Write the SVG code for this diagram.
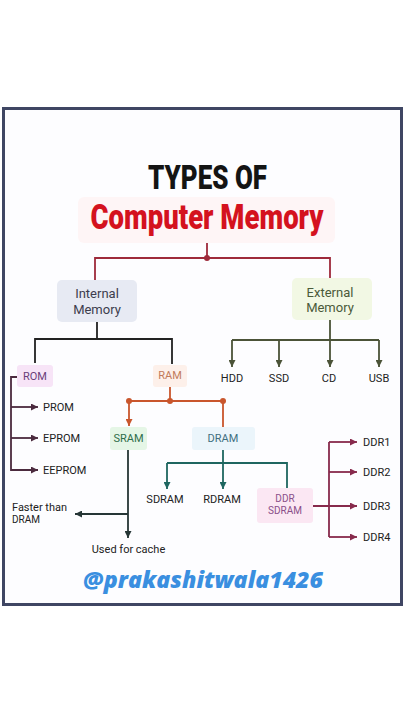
<svg xmlns="http://www.w3.org/2000/svg" width="405" height="720" viewBox="0 0 405 720">
<style>
text{font-family:Roboto,"Liberation Sans",sans-serif}
.s{font-size:11px;fill:#222}
.t{font-size:10px;fill:#222}
.m{font-size:13px}
.c{text-anchor:middle}
.ln{fill:none;stroke-width:1.8}
</style>
<defs>
<marker id="aOl" viewBox="0 0 10 10" refX="10" refY="5" markerWidth="7" markerHeight="7" markerUnits="userSpaceOnUse" orient="auto"><path d="M0,0L10,5L0,10z" fill="#4b5338"/></marker>
<marker id="aPu" viewBox="0 0 10 10" refX="10" refY="5" markerWidth="7" markerHeight="7" markerUnits="userSpaceOnUse" orient="auto"><path d="M0,0L10,5L0,10z" fill="#4b2a3e"/></marker>
<marker id="aOr" viewBox="0 0 10 10" refX="10" refY="5" markerWidth="7" markerHeight="7" markerUnits="userSpaceOnUse" orient="auto"><path d="M0,0L10,5L0,10z" fill="#c9562d"/></marker>
<marker id="aSl" viewBox="0 0 10 10" refX="10" refY="5" markerWidth="7" markerHeight="7" markerUnits="userSpaceOnUse" orient="auto"><path d="M0,0L10,5L0,10z" fill="#263636"/></marker>
<marker id="aTe" viewBox="0 0 10 10" refX="10" refY="5" markerWidth="7" markerHeight="7" markerUnits="userSpaceOnUse" orient="auto"><path d="M0,0L10,5L0,10z" fill="#1e6660"/></marker>
<marker id="aMa" viewBox="0 0 10 10" refX="10" refY="5" markerWidth="7" markerHeight="7" markerUnits="userSpaceOnUse" orient="auto"><path d="M0,0L10,5L0,10z" fill="#872a4c"/></marker>
</defs>
<rect width="405" height="720" fill="#ffffff"/>
<rect x="3.5" y="108.5" width="398" height="496" fill="#fdfdff" stroke="#3f4663" stroke-width="3"/>

<g id="title">
<rect x="78" y="197" width="257" height="46" rx="6" fill="#fef5f6"/>
<text x="207.5" y="188.5" class="c" font-size="33" font-weight="900" fill="#141414" textLength="119" lengthAdjust="spacingAndGlyphs">TYPES OF</text>
<text x="207" y="229" class="c" font-size="35" font-weight="900" fill="#d4121e" textLength="233" lengthAdjust="spacingAndGlyphs">Computer Memory</text>
</g>

<g id="connectors">
<path class="ln" stroke="#9e2a3b" d="M207,243V258M95,280V258H330V278"/>
<circle cx="207" cy="258" r="3" fill="#9e2a3b"/>
<path class="ln" stroke="#222" d="M97,322V339M35,363V339H172V364"/>
<path class="ln" stroke="#4b5338" d="M330,320V340M232,340H379"/>
<path class="ln" stroke="#4b5338" marker-end="url(#aOl)" d="M232,340V367"/>
<path class="ln" stroke="#4b5338" marker-end="url(#aOl)" d="M279,340V367"/>
<path class="ln" stroke="#4b5338" marker-end="url(#aOl)" d="M330,340V367"/>
<path class="ln" stroke="#4b5338" marker-end="url(#aOl)" d="M379,340V367"/>
<path class="ln" stroke="#4b2a3e" marker-end="url(#aPu)" d="M17,377H11V470H38"/>
<path class="ln" stroke="#4b2a3e" marker-end="url(#aPu)" d="M11,407H38"/>
<path class="ln" stroke="#4b2a3e" marker-end="url(#aPu)" d="M11,438H38"/>
<path class="ln" stroke="#c9562d" d="M170,387V401M129,401H223V427"/>
<path class="ln" stroke="#c9562d" marker-end="url(#aOr)" d="M129,401V426"/>
<circle cx="129" cy="401" r="3" fill="#c9562d"/>
<circle cx="170" cy="401" r="3" fill="#c9562d"/>
<circle cx="223" cy="401" r="3" fill="#c9562d"/>
<path class="ln" stroke="#263636" marker-end="url(#aSl)" d="M128,450V538"/>
<path class="ln" stroke="#263636" marker-end="url(#aSl)" d="M128,514H75"/>
<path class="ln" stroke="#1e6660" d="M167,463H287V488"/>
<path class="ln" stroke="#1e6660" marker-end="url(#aTe)" d="M223,450V489"/>
<path class="ln" stroke="#1e6660" marker-end="url(#aTe)" d="M167,463V489"/>
<path class="ln" stroke="#872a4c" d="M329,442V537"/>
<path class="ln" stroke="#872a4c" marker-end="url(#aMa)" d="M313,506H357"/>
<path class="ln" stroke="#872a4c" marker-end="url(#aMa)" d="M329,442H357"/>
<path class="ln" stroke="#872a4c" marker-end="url(#aMa)" d="M329,472H357"/>
<path class="ln" stroke="#872a4c" marker-end="url(#aMa)" d="M329,537H357"/>
</g>

<g id="internal">
<rect x="57" y="280" width="80" height="42" rx="5" fill="#e7eaf3"/>
<text x="97" y="298" class="m c" fill="#3d3d4d">Internal</text>
<text x="97" y="313.5" class="m c" fill="#3d3d4d">Memory</text>
</g>
<g id="external">
<rect x="292" y="278" width="80" height="42" rx="5" fill="#f2f8e4"/>
<text x="330" y="296.5" class="m c" fill="#4b5a3a">External</text>
<text x="330" y="312" class="m c" fill="#4b5a3a">Memory</text>
</g>
<g id="rom">
<rect x="17" y="365" width="36" height="22" rx="3" fill="#f7e4f7"/>
<text x="35" y="380" class="s c" style="fill:#6a3d7a">ROM</text>
</g>
<g id="ram">
<rect x="153" y="365" width="34" height="22" rx="3" fill="#fdf0ea"/>
<text x="170" y="379" class="s c" style="fill:#c27a5a">RAM</text>
</g>
<g id="hdd"><text x="232" y="382" class="s c">HDD</text></g>
<g id="ssd"><text x="279" y="382" class="s c">SSD</text></g>
<g id="cd"><text x="329" y="382" class="s c">CD</text></g>
<g id="usb"><text x="379" y="382" class="s c">USB</text></g>
<g id="prom"><text x="43" y="411" class="s">PROM</text></g>
<g id="eprom"><text x="43" y="442" class="s">EPROM</text></g>
<g id="eeprom"><text x="43" y="474" class="s">EEPROM</text></g>
<g id="sram">
<rect x="110" y="427" width="37" height="23" rx="3" fill="#e5f6e6"/>
<text x="128.5" y="442" class="s c" style="fill:#2f6e4a">SRAM</text>
</g>
<g id="dram">
<rect x="192" y="427" width="63" height="23" rx="3" fill="#ebf5fb"/>
<text x="223" y="442" class="s c" style="fill:#3f6f80">DRAM</text>
</g>
<g id="faster">
<text x="12" y="511" class="t" textLength="55" lengthAdjust="spacingAndGlyphs">Faster than</text>
<text x="12" y="523" class="t">DRAM</text>
</g>
<g id="cache"><text x="128.5" y="553" class="s c">Used for cache</text></g>
<g id="sdram"><text x="165" y="503" class="s c">SDRAM</text></g>
<g id="rdram"><text x="222" y="503" class="s c">RDRAM</text></g>
<g id="ddrsdram">
<rect x="257" y="488" width="56" height="35" rx="3" fill="#fbe7f3"/>
<text x="285" y="502" class="t c" style="fill:#8a4f8a">DDR</text>
<text x="285" y="514" class="t c" style="fill:#8a4f8a">SDRAM</text>
</g>
<g id="ddr1"><text x="363" y="446" class="s">DDR1</text></g>
<g id="ddr2"><text x="363" y="476" class="s">DDR2</text></g>
<g id="ddr3"><text x="363" y="510" class="s">DDR3</text></g>
<g id="ddr4"><text x="363" y="541" class="s">DDR4</text></g>
<g id="watermark">
<text x="203" y="588" class="c" font-size="23" font-weight="800" font-style="italic" fill="#3a8fe0" textLength="240" lengthAdjust="spacingAndGlyphs" style="font-family:'Open Sans',Lato,sans-serif">@prakashitwala1426</text>
</g>
</svg>
